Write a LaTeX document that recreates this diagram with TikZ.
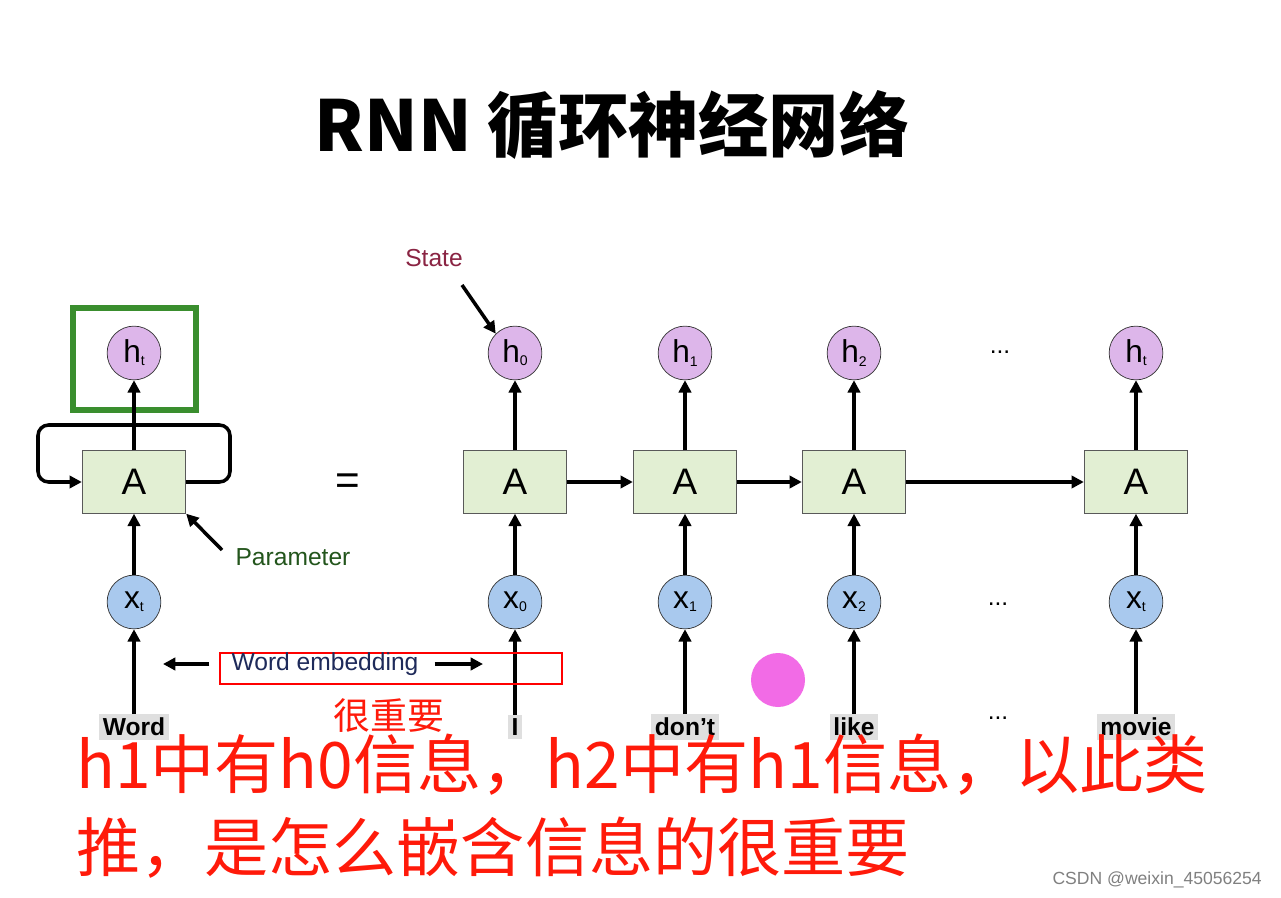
\documentclass[tikz,border=0pt]{standalone}
\usepackage{fontspec}
\setmainfont{Noto Sans CJK SC}
\newfontfamily\latin{Liberation Sans}
\usetikzlibrary{positioning,arrows.meta}
\definecolor{cellgreen}{HTML}{E2EFD3}
\definecolor{hpurple}{HTML}{DDB6EA}
\definecolor{xblue}{HTML}{A9C9EE}
\definecolor{boxgreen}{HTML}{3A8E2E}
\definecolor{statered}{HTML}{8A2443}
\definecolor{embnavy}{HTML}{1E2A5A}
\definecolor{notered}{HTML}{FF1A0A}
\definecolor{spot}{HTML}{F26BE6}
\tikzset{
  cell/.style={draw=gray!70!black, fill=cellgreen, minimum width=59pt, minimum height=35.7pt, font=\latin\fontsize{21}{21}\selectfont, inner sep=0pt},
  hid/.style={circle, draw=gray!40!black, fill=hpurple, minimum size=30.6pt, inner sep=0pt, font=\latin\fontsize{18}{18}\selectfont},
  inp/.style={circle, draw=gray!40!black, fill=xblue, minimum size=30.6pt, inner sep=0pt, font=\latin\fontsize{18}{18}\selectfont},
  word/.style={fill=gray!25, inner sep=2pt, font=\latin\fontsize{14}{14}\selectfont\bfseries},
  arr/.style={-{Triangle[length=7pt,width=7pt]}, line width=2pt},
  dots/.style={font=\latin\fontsize{14}{14}\selectfont}
}
\newcommand{\sub}[2]{#1\raisebox{-0.1em}{\fontsize{8}{8}\selectfont #2}}
\begin{document}
\begin{tikzpicture}[x=0.02cm, y=-0.02cm]
\useasboundingbox (0,0) rectangle (1281,898);
\fill[white] (0,0) rectangle (1281,898);
\node (title) at (612,125) {\fontsize{40}{40}\selectfont\bfseries RNN 循环神经网络};

% folded network
\node[cell] (aL) at (134,482) {A};
\node[hid] (hL) at (134,353) {\sub{h}{t}};
\node[inp] (xL) at (134,602) {\sub{x}{t}};
\node[word] (wL) at (134,727) {Word};
\draw[boxgreen, line width=3.5pt] (73,308) rectangle (196,410);
\draw[arr] (aL) -- (hL);
\draw[arr] (xL) -- (aL);
\draw[arr] (wL) -- (xL);
\draw[arr, rounded corners=6pt] (aL.east) -- (230,482) -- (230,425) -- (38,425) -- (38,482) -- (aL.west);
\node[font=\latin\fontsize{14}{14}\selectfont, text=boxgreen!60!black] (param) at (293,557) {Parameter};
\coordinate (pstart) at (222,550);
\draw[arr] (pstart) -- (aL.south east);
\node[font=\latin\fontsize{24}{24}\selectfont] (eq) at (348,484) {=};

% unrolled network
\foreach \n/\px/\hs/\xs/\w in {0/515/0/0/I, 1/685/1/1/don’t, 2/854/2/2/like, t/1136/t/t/movie} {
  \node[cell] (a\n) at (\px,482) {A};
  \node[hid] (h\n) at (\px,353) {\sub{h}{\hs}};
  \node[inp] (x\n) at (\px,602) {\sub{x}{\xs}};
  \node[word] (w\n) at (\px,727) {\w};
  \draw[arr] (a\n) -- (h\n);
  \draw[arr] (x\n) -- (a\n);
  \draw[arr] (w\n) -- (x\n);
}
\draw[arr] (a0) -- (a1);
\draw[arr] (a1) -- (a2);
\draw[arr] (a2) -- (at);
\node[dots] (d1) at (1000,352) {...};
\node[dots] (d2) at (998,604) {...};
\node[dots] (d3) at (998,718) {...};

\node[font=\latin\fontsize{14}{14}\selectfont, text=statered] (state) at (434,258) {State};
\coordinate (sstart) at (462,285);
\draw[arr] (sstart) -- (h0.north west);

% word embedding
\draw[red, line width=0.6pt] (220,653) rectangle (562,684);
\node[font=\latin\fontsize{14}{14}\selectfont, text=embnavy] (emb) at (325,664) {Word embedding};
\coordinate (el) at (163,664);
\coordinate (er) at (483,664);
\draw[arr] (emb.west) ++(-16,0) -- (el);
\draw[arr] (emb.east) ++(10,0) -- (er);

\fill[spot] (778,680) circle (27);
\node[font=\fontsize{21}{21}\selectfont, text=notered] (imp) at (389,716) {很重要};
\node[font=\fontsize{36.5}{36.5}\selectfont, text=notered, anchor=west] (n1) at (70,765) {h1中有h0信息，h2中有h1信息，以此类};
\node[font=\fontsize{36.5}{36.5}\selectfont, text=notered, anchor=west] (n2) at (70,848) {推，是怎么嵌含信息的很重要};
\node[font=\latin\fontsize{10}{10}\selectfont, text=gray, anchor=east] (wm) at (1268,880) {CSDN @weixin\_45056254};
\end{tikzpicture}
\end{document}
